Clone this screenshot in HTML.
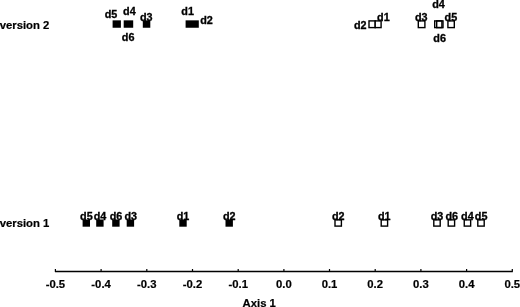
<!DOCTYPE html>
<html><head><meta charset="utf-8"><title>Axis 1</title>
<style>
html,body{margin:0;padding:0;background:#fff;}
body{width:520px;height:307px;overflow:hidden;}
svg{display:block;}
text{font-family:"Liberation Sans",sans-serif;font-weight:bold;fill:#000;}
.a{font-size:11.3px;stroke:#000;stroke-width:0.2px;}
.l{font-size:10.4px;}
.f{fill:#000;}
.o{fill:#fff;stroke:#000;stroke-width:1.4;}
.l{stroke:#000;stroke-width:0.3px;}
</style></head><body>
<svg width="520" height="307" viewBox="0 0 520 307">
<rect width="520" height="307" fill="#fff"/>
<text class="a" x="-0.3" y="28.8">version 2</text>
<text class="a" x="-0.3" y="226.7">version 1</text>
<line x1="54.9" y1="271.5" x2="512.8" y2="271.5" stroke="#000" stroke-width="1.4"/>
<line x1="55.4" y1="269.0" x2="55.4" y2="271.5" stroke="#000" stroke-width="1.2"/>
<text class="a" x="55.4" y="288" text-anchor="middle">-0.5</text>
<line x1="101.1" y1="269.0" x2="101.1" y2="271.5" stroke="#000" stroke-width="1.2"/>
<text class="a" x="101.1" y="288" text-anchor="middle">-0.4</text>
<line x1="146.8" y1="269.0" x2="146.8" y2="271.5" stroke="#000" stroke-width="1.2"/>
<text class="a" x="146.8" y="288" text-anchor="middle">-0.3</text>
<line x1="192.5" y1="269.0" x2="192.5" y2="271.5" stroke="#000" stroke-width="1.2"/>
<text class="a" x="192.5" y="288" text-anchor="middle">-0.2</text>
<line x1="238.2" y1="269.0" x2="238.2" y2="271.5" stroke="#000" stroke-width="1.2"/>
<text class="a" x="238.2" y="288" text-anchor="middle">-0.1</text>
<line x1="283.9" y1="269.0" x2="283.9" y2="271.5" stroke="#000" stroke-width="1.2"/>
<text class="a" x="283.9" y="288" text-anchor="middle">0.0</text>
<line x1="329.5" y1="269.0" x2="329.5" y2="271.5" stroke="#000" stroke-width="1.2"/>
<text class="a" x="329.5" y="288" text-anchor="middle">0.1</text>
<line x1="375.2" y1="269.0" x2="375.2" y2="271.5" stroke="#000" stroke-width="1.2"/>
<text class="a" x="375.2" y="288" text-anchor="middle">0.2</text>
<line x1="420.9" y1="269.0" x2="420.9" y2="271.5" stroke="#000" stroke-width="1.2"/>
<text class="a" x="420.9" y="288" text-anchor="middle">0.3</text>
<line x1="466.6" y1="269.0" x2="466.6" y2="271.5" stroke="#000" stroke-width="1.2"/>
<text class="a" x="466.6" y="288" text-anchor="middle">0.4</text>
<line x1="512.3" y1="269.0" x2="512.3" y2="271.5" stroke="#000" stroke-width="1.2"/>
<text class="a" x="512.3" y="288" text-anchor="middle">0.5</text>
<text class="a" x="259.2" y="306.5" text-anchor="middle">Axis 1</text>
<rect class="f" x="112.6" y="20.35" width="8.3" height="7.4"/>
<rect class="f" x="123.7" y="20.35" width="9.5" height="7.4"/>
<rect class="f" x="142.8" y="20.35" width="7.5" height="7.4"/>
<rect class="f" x="185.6" y="20.35" width="13.2" height="7.4"/>
<rect class="o" x="369.00" y="20.9" width="6.20" height="6.7"/>
<rect class="o" x="375.20" y="20.9" width="5.90" height="6.7"/>
<rect class="o" x="418.30" y="20.9" width="6.60" height="6.7"/>
<rect class="o" x="434.70" y="20.9" width="7.20" height="6.7"/>
<rect class="o" x="436.70" y="20.9" width="6.30" height="6.7" style="fill:none"/>
<rect class="o" x="447.90" y="20.9" width="6.40" height="6.7"/>
<rect class="f" x="82.6" y="219.5" width="7.4" height="7.2"/>
<rect class="f" x="96.2" y="219.5" width="7.4" height="7.2"/>
<rect class="f" x="112.2" y="219.5" width="7.4" height="7.2"/>
<rect class="f" x="126.7" y="219.5" width="7.4" height="7.2"/>
<rect class="f" x="179.3" y="219.5" width="7.4" height="7.2"/>
<rect class="f" x="225.5" y="219.5" width="7.4" height="7.2"/>
<rect class="o" x="335.00" y="219.85" width="6.4" height="6.25"/>
<rect class="o" x="381.20" y="219.85" width="6.4" height="6.25"/>
<rect class="o" x="433.80" y="219.85" width="6.4" height="6.25"/>
<rect class="o" x="448.20" y="219.85" width="6.4" height="6.25"/>
<rect class="o" x="464.25" y="219.85" width="6.4" height="6.25"/>
<rect class="o" x="477.80" y="219.85" width="6.4" height="6.25"/>
<text class="l" transform="translate(111.0 18.0) scale(1.04 1)" text-anchor="middle">d5</text>
<text class="l" transform="translate(129.4 15.4) scale(1.04 1)" text-anchor="middle">d4</text>
<text class="l" transform="translate(146.2 20.6) scale(1.04 1)" text-anchor="middle">d3</text>
<text class="l" transform="translate(128.1 40.8) scale(1.04 1)" text-anchor="middle">d6</text>
<text class="l" transform="translate(187.6 15.2) scale(1.04 1)" text-anchor="middle">d1</text>
<text class="l" transform="translate(206.5 23.6) scale(1.04 1)" text-anchor="middle">d2</text>
<text class="l" transform="translate(360.2 28.8) scale(1.04 1)" text-anchor="middle">d2</text>
<text class="l" transform="translate(383.4 20.8) scale(1.04 1)" text-anchor="middle">d1</text>
<text class="l" transform="translate(438.5 8.1) scale(1.04 1)" text-anchor="middle">d4</text>
<text class="l" transform="translate(421.2 20.5) scale(1.04 1)" text-anchor="middle">d3</text>
<text class="l" transform="translate(450.9 20.5) scale(1.04 1)" text-anchor="middle">d5</text>
<text class="l" transform="translate(439.6 42.1) scale(1.04 1)" text-anchor="middle">d6</text>
<text class="l" transform="translate(86.4 219.6) scale(1.04 1)" text-anchor="middle">d5</text>
<text class="l" transform="translate(100.0 219.6) scale(1.04 1)" text-anchor="middle">d4</text>
<text class="l" transform="translate(116.0 219.6) scale(1.04 1)" text-anchor="middle">d6</text>
<text class="l" transform="translate(130.8 219.6) scale(1.04 1)" text-anchor="middle">d3</text>
<text class="l" transform="translate(183.0 219.6) scale(1.04 1)" text-anchor="middle">d1</text>
<text class="l" transform="translate(229.2 219.6) scale(1.04 1)" text-anchor="middle">d2</text>
<text class="l" transform="translate(338.2 219.6) scale(1.04 1)" text-anchor="middle">d2</text>
<text class="l" transform="translate(384.3 219.6) scale(1.04 1)" text-anchor="middle">d1</text>
<text class="l" transform="translate(437.0 219.6) scale(1.04 1)" text-anchor="middle">d3</text>
<text class="l" transform="translate(451.8 219.6) scale(1.04 1)" text-anchor="middle">d6</text>
<text class="l" transform="translate(467.4 219.6) scale(1.04 1)" text-anchor="middle">d4</text>
<text class="l" transform="translate(481.1 219.6) scale(1.04 1)" text-anchor="middle">d5</text>
</svg></body></html>
